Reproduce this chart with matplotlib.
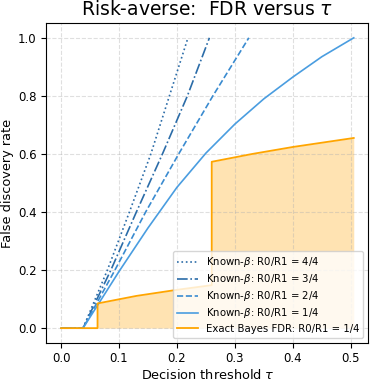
import matplotlib
matplotlib.use("Agg")
import matplotlib.pyplot as plt

# Known-beta FDR curves (tau, FDR)
tau_44 = [0.0, 0.038, 0.080, 0.118, 0.155, 0.187, 0.219]
fdr_44 = [0.0, 0.0, 0.2, 0.4, 0.6, 0.8, 1.0]

tau_34 = [0.0, 0.038, 0.086, 0.130, 0.175, 0.218, 0.256]
fdr_34 = [0.0, 0.0, 0.2, 0.4, 0.6, 0.8, 1.0]

tau_24 = [0.0, 0.038, 0.093, 0.146, 0.203, 0.262, 0.324]
fdr_24 = [0.0, 0.0, 0.2, 0.4, 0.6, 0.8, 1.0]

tau_14 = [0.0, 0.038, 0.10, 0.15, 0.20, 0.25, 0.30, 0.35, 0.40, 0.45, 0.505]
fdr_14 = [0.0, 0.0, 0.195, 0.345, 0.485, 0.603, 0.703, 0.79, 0.865, 0.935, 1.0]

# exact Bayes FDR (step curve)
tau_bayes = [0.0, 0.063, 0.063, 0.130, 0.200, 0.260, 0.260, 0.330, 0.400, 0.505]
fdr_bayes = [0.0, 0.0, 0.085, 0.111, 0.132, 0.148, 0.573, 0.600, 0.624, 0.655]

labels = ["Known-$\\beta$: R0/R1 = 4/4", "Known-$\\beta$: R0/R1 = 3/4",
          "Known-$\\beta$: R0/R1 = 2/4", "Known-$\\beta$: R0/R1 = 1/4",
          "Exact Bayes FDR: R0/R1 = 1/4"]

fig = plt.figure(figsize=(3.74, 3.82), dpi=100)
ax = fig.add_axes([0.124, 0.103, 0.861, 0.836])

ax.plot(tau_44, fdr_44, linestyle=":", color="#2b6ca8", lw=1.2, label=labels[0])
ax.plot(tau_34, fdr_34, linestyle="-.", color="#2b6ca8", lw=1.2, label=labels[1])
ax.plot(tau_24, fdr_24, linestyle="--", color="#3a8bd0", lw=1.2, label=labels[2])
ax.plot(tau_14, fdr_14, linestyle="-", color="#4a9de0", lw=1.2, label=labels[3])
ax.plot(tau_bayes, fdr_bayes, color="orange", lw=1.3, label=labels[4])
ax.fill_between(tau_bayes, fdr_bayes, 0, color="orange", alpha=0.3, lw=0)

ax.set_title("Risk-averse:  FDR versus $\\tau$", fontsize=13.5)
ax.set_xlabel("Decision threshold $\\tau$", fontsize=9.3, labelpad=2)
ax.set_ylabel("False discovery rate", fontsize=9.3, labelpad=3)
ax.tick_params(labelsize=8.5)
ax.set_xticks([0.0, 0.1, 0.2, 0.3, 0.4, 0.5])
ax.set_yticks([0.0, 0.2, 0.4, 0.6, 0.8, 1.0])
ax.grid(True, linestyle="--", alpha=0.4)
ax.legend(loc="lower right", fontsize=7.3, labelspacing=0.3)

fig.savefig("out.png", dpi=100)
